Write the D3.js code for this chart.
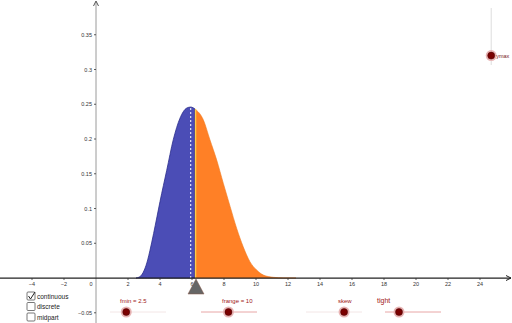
<!DOCTYPE html>
<html>
<head>
<meta charset="utf-8">
<script src="https://cdn.jsdelivr.net/npm/d3@7"></script>
<style>
  body { margin: 0; background: #fff; }
  svg { display: block; font-family: "Liberation Sans", "DejaVu Sans", sans-serif; }
</style>
</head>
<body>
<div id="chart"></div>
<script>
// density curve (t, f(t))
const curveT = [2.5, 2.6, 2.85, 3.02, 3.23, 3.375, 3.6, 3.81, 4.0, 4.42, 4.83, 5.25, 5.67, 5.92, 6.2, 6.7, 7.12, 7.54, 7.96, 8.38, 8.79, 9.2, 9.62, 10.04, 10.46, 11.1, 11.7, 12.5]
const curveF = [0, 0.0005, 0.0043, 0.0115, 0.026, 0.040, 0.064, 0.088, 0.110, 0.155, 0.199, 0.230, 0.2445, 0.246, 0.243, 0.228, 0.199, 0.170, 0.136, 0.103, 0.0716, 0.045, 0.0235, 0.0115, 0.0043, 0.001, 0.0002, 0]
const splitT = 6.2
const modeT = 5.92
const markerT = 6.25
const ymaxPoint = [24.7, 0.32]

const xTicks = [-4, -2, 0, 2, 4, 6, 8, 10, 12, 14, 16, 18, 20, 22, 24]
const yTicks = [-0.05, 0.05, 0.1, 0.15, 0.2, 0.25, 0.3, 0.35]

const checkboxes = ['continuous', 'discrete', 'midpart']
const checked = [true, false, false]

const sliderLabels = ['fmin = 2.5', 'frange = 10', 'skew', 'tight']
const sliderValues = [0.29, 0.49, 0.68, 0.25]

width = 512
height = 323

const data = curveT.map((t, i) => ({ t: t, f: curveF[i] }))

const xScale = d3.scaleLinear().domain([-6, 26]).range([0, width])
const yScale = d3.scaleLinear().domain([-0.0647, 0.4]).range([height, 0])

const svg = d3.select('#chart')
    .append('svg')
    .attr('width', width)
    .attr('height', height)

// y axis
svg.append('line')
    .attr('x1', xScale(0)).attr('x2', xScale(0))
    .attr('y1', height).attr('y2', 2)
    .attr('stroke', '#9a9a9a').attr('stroke-width', 1)
svg.append('path')
    .attr('d', `M${xScale(0) - 2.5},6 L${xScale(0)},1 L${xScale(0) + 2.5},6`)
    .attr('fill', 'none').attr('stroke', '#555').attr('stroke-width', 1)

// Fill areas
const area = d3.area()
    .x(d => xScale(d.t))
    .y0(yScale(0))
    .y1(d => yScale(d.f))
    .curve(d3.curveMonotoneX)

const interp = t => {
    const i = d3.bisector(d => d.t).left(data, t)
    const a = data[i - 1], b = data[i]
    return a.f + (b.f - a.f) * (t - a.t) / (b.t - a.t)
}
const leftData = data.filter(d => d.t < splitT).concat([{ t: splitT, f: interp(splitT) }])
const rightData = [{ t: splitT, f: interp(splitT) }].concat(data.filter(d => d.t > splitT))

svg.append('path')
    .datum(leftData)
    .attr('d', area)
    .attr('fill', '#4b4db6')
    .attr('stroke', '#2a2c8c')
    .attr('stroke-width', 0.8)
svg.append('path')
    .datum(rightData)
    .attr('d', area)
    .attr('fill', '#ff8026')
    .attr('stroke', '#f07a20')
    .attr('stroke-width', 0.6)

// mode (white dashed) and split (yellow) lines
svg.append('line')
    .attr('x1', xScale(modeT)).attr('x2', xScale(modeT))
    .attr('y1', yScale(0)).attr('y2', yScale(interp(modeT)) + 1)
    .attr('stroke', '#fff').attr('stroke-width', 1)
    .attr('stroke-dasharray', '2,2')
svg.append('line')
    .attr('x1', xScale(splitT) + 0.5).attr('x2', xScale(splitT) + 0.5)
    .attr('y1', yScale(0)).attr('y2', yScale(interp(splitT)))
    .attr('stroke', '#ffe34d').attr('stroke-width', 1)

// x axis
svg.append('line')
    .attr('x1', 0).attr('x2', width - 1)
    .attr('y1', yScale(0)).attr('y2', yScale(0))
    .attr('stroke', '#222').attr('stroke-width', 1.2)
svg.append('path')
    .attr('d', `M${width - 6},${yScale(0) - 2.5} L${width - 1},${yScale(0)} L${width - 6},${yScale(0) + 2.5}`)
    .attr('fill', 'none').attr('stroke', '#222').attr('stroke-width', 1)

svg.selectAll('.xtick')
    .data(xTicks)
    .enter()
    .append('line')
    .attr('x1', d => xScale(d)).attr('x2', d => xScale(d))
    .attr('y1', yScale(0)).attr('y2', yScale(0) + 2)
    .attr('stroke', '#333').attr('stroke-width', 0.8)
    .attr('opacity', d => d === 0 ? 0 : 1)
svg.selectAll('.xlabel')
    .data(xTicks)
    .enter()
    .append('text')
    .attr('x', d => d === 0 ? xScale(d) - 5 : xScale(d))
    .attr('y', yScale(0) + 8)
    .attr('text-anchor', 'middle')
    .attr('font-size', 5.5)
    .attr('fill', '#333')
    .text(d => d < 0 ? '−' + Math.abs(d) : d)

svg.selectAll('.ytick')
    .data(yTicks)
    .enter()
    .append('line')
    .attr('x1', xScale(0) - 2).attr('x2', xScale(0))
    .attr('y1', d => yScale(d)).attr('y2', d => yScale(d))
    .attr('stroke', '#333').attr('stroke-width', 0.8)
svg.selectAll('.ylabel')
    .data(yTicks)
    .enter()
    .append('text')
    .attr('x', xScale(0) - 4)
    .attr('y', d => yScale(d) + 2)
    .attr('text-anchor', 'end')
    .attr('font-size', 5.5)
    .attr('fill', '#333')
    .text(d => d < 0 ? '−' + Math.abs(d) : d)

// marker triangle
const mx = xScale(markerT), my = yScale(0)
svg.append('path')
    .attr('d', `M${mx},${my + 1} L${mx + 8},${my + 16} L${mx - 8},${my + 16} Z`)
    .attr('fill', '#666')
    .attr('stroke', '#8a5a4a')
    .attr('stroke-width', 0.5)

// ymax point
svg.append('line')
    .attr('x1', xScale(ymaxPoint[0])).attr('x2', xScale(ymaxPoint[0]))
    .attr('y1', 8).attr('y2', 65)
    .attr('stroke', '#ddd').attr('stroke-width', 1)
svg.append('circle')
    .attr('cx', xScale(ymaxPoint[0])).attr('cy', yScale(ymaxPoint[1]))
    .attr('r', 5.5).attr('fill', '#e8b4b4')
svg.append('circle')
    .attr('cx', xScale(ymaxPoint[0])).attr('cy', yScale(ymaxPoint[1]))
    .attr('r', 3.5).attr('fill', '#7a0000').attr('stroke', '#400').attr('stroke-width', 0.5)
svg.append('text')
    .attr('x', xScale(ymaxPoint[0]) + 5)
    .attr('y', yScale(ymaxPoint[1]) + 2)
    .attr('font-size', 5.5)
    .attr('fill', '#7a1a1a')
    .text('ymax')

// checkboxes
const cb = svg.selectAll('.cb')
    .data(checkboxes)
    .enter()
    .append('g')
    .attr('transform', (d, i) => `translate(27, ${292 + i * 10.5})`)
cb.append('rect')
    .attr('width', 8).attr('height', 8).attr('rx', 1)
    .attr('fill', '#fff').attr('stroke', '#555').attr('stroke-width', 0.8)
cb.filter((d, i) => checked[i])
    .append('path')
    .attr('d', 'M1.5,4 L3.5,7 L8,0')
    .attr('fill', 'none').attr('stroke', '#222').attr('stroke-width', 1)
cb.append('text')
    .attr('x', 10).attr('y', 6.5)
    .attr('font-size', 6.5)
    .attr('fill', '#222')
    .text(d => d)

// sliders
const sliderX = [110, 201, 306, 385]
const sliderLen = 56
const sliderLabelX = [120, 222, 338, 377]
const sliderTrack = ['#f3e6e6', '#e8a6a6', '#f3e6e6', '#e8a6a6']
const sl = svg.selectAll('.slider')
    .data(sliderLabels)
    .enter()
    .append('g')
sl.append('line')
    .attr('x1', (d, i) => sliderX[i]).attr('x2', (d, i) => sliderX[i] + sliderLen)
    .attr('y1', 312).attr('y2', 312)
    .attr('stroke', (d, i) => sliderTrack[i]).attr('stroke-width', 1)
sl.append('circle')
    .attr('cx', (d, i) => sliderX[i] + sliderValues[i] * sliderLen)
    .attr('cy', 312).attr('r', 5.5).attr('fill', '#e8b4b4')
sl.append('circle')
    .attr('cx', (d, i) => sliderX[i] + sliderValues[i] * sliderLen)
    .attr('cy', 312).attr('r', 3.5).attr('fill', '#7a0000')
    .attr('stroke', '#400').attr('stroke-width', 0.5)
sl.append('text')
    .attr('x', (d, i) => sliderLabelX[i])
    .attr('y', 303)
    .attr('font-size', (d, i) => i === 3 ? 7 : 6)
    .attr('fill', '#a01818')
    .text(d => d)
</script>
</body>
</html>
